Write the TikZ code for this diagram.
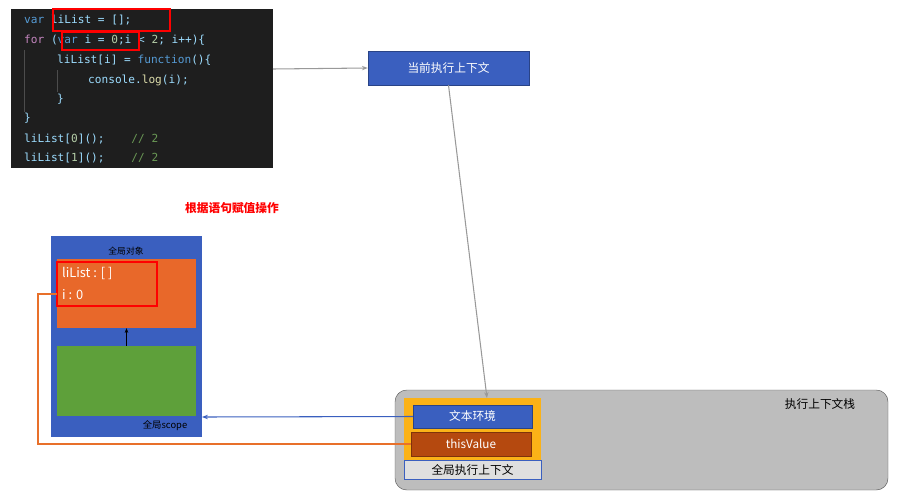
\documentclass[tikz,border=0pt]{standalone}
\usepackage{fontspec}
\setmainfont{Noto Sans CJK SC}
\newfontfamily\codefont{DejaVu Sans Mono}
\usetikzlibrary{arrows.meta,positioning}
\definecolor{codebg}{HTML}{1E1E1E}
\definecolor{kwblue}{HTML}{569CD6}
\definecolor{kwpink}{HTML}{C586C0}
\definecolor{idblue}{HTML}{9CDCFE}
\definecolor{fnyel}{HTML}{DCDCAA}
\definecolor{numgrn}{HTML}{B5CEA8}
\definecolor{cmtgrn}{HTML}{6A9955}
\definecolor{boxblue}{HTML}{3A5FBF}
\definecolor{objorange}{HTML}{E8682A}
\definecolor{scopegreen}{HTML}{5EA03A}
\definecolor{framegold}{HTML}{FBB217}
\definecolor{thisbrown}{HTML}{B5490F}
\definecolor{stackgray}{HTML}{BDBDBD}
\definecolor{linkorange}{HTML}{E8702A}
\tikzset{
  codeline/.style={anchor=west,inner sep=0pt,font=\codefont\fontsize{9.5}{11}\selectfont,text=idblue},
  redmark/.style={draw=red,line width=1.6pt},
  bluebox/.style={fill=boxblue,draw=boxblue!70!black,text=white,inner sep=0pt},
  grayarrow/.style={draw=gray!80,line width=0.9pt,-{Stealth[length=5pt]}},
}
\begin{document}
\begin{tikzpicture}[x=0.03cm,y=-0.03cm]
	\useasboundingbox (0,0) rectangle (903,500);

	% code
	\fill[codebg] (11,9) rectangle (273,168);
	\draw[gray!60!black] (24,50) -- (24,112);
	\draw[gray!60!black] (57,70) -- (57,92);
	\node[codeline] (c1) at (24,20) {\textcolor{kwblue}{var} liList = [];};
	\node[codeline] (c2) at (24,40) {\textcolor{kwpink}{for} (\textcolor{kwblue}{var} i = \textcolor{numgrn}{0};i < \textcolor{numgrn}{2}; i++)\{};
	\node[codeline] (c3) at (57,60) {liList[i] = \textcolor{kwblue}{function}()\{};
	\node[codeline] (c4) at (88,80) {console.\textcolor{fnyel}{log}(i);};
	\node[codeline] (c5) at (57,99) {\}};
	\node[codeline] (c6) at (24,118) {\}};
	\node[codeline] (c7) at (24,139) {liList[\textcolor{numgrn}{0}]();\ \ \ \ \textcolor{cmtgrn}{// 2}};
	\node[codeline] (c8) at (24,158) {liList[\textcolor{numgrn}{1}]();\ \ \ \ \textcolor{cmtgrn}{// 2}};
	\draw[redmark] (53,9) rectangle (170,31);
	\draw[redmark] (62,32) rectangle (139,50);
	\coordinate (codeout) at (273,69);

	% current context
	\node[bluebox,minimum width=161*0.03cm,minimum height=34*0.03cm,font=\fontsize{10}{12}\selectfont] (cur) at (448.5,68) {当前执行上下文};
	\draw[grayarrow] (codeout) -- (cur.west);

	\node[text=red,font=\bfseries\fontsize{10}{12}\selectfont] (note) at (232,208) {根据语句赋值操作};

	% global object
	\fill[boxblue] (51,236) rectangle (202,437);
	\node[font=\fontsize{7.5}{9}\selectfont] (gtitle) at (126,251) {全局对象};
	\node[fill=objorange,minimum width=139*0.03cm,minimum height=69*0.03cm,inner sep=0pt] (obj) at (126.5,293.5) {};
	\node[fill=scopegreen,minimum width=139*0.03cm,minimum height=70*0.03cm,inner sep=0pt] (scope) at (126.5,381) {};
	\draw[-{Stealth[length=4pt]}] (scope.north) -- (obj.south);
	\draw[redmark] (57,262) rectangle (157,306);
	\node[anchor=west,text=white,font=\fontsize{11}{13}\selectfont,inner sep=0pt] (lilist) at (62,273) {liList : [ ]};
	\node[anchor=west,text=white,font=\fontsize{11}{13}\selectfont,inner sep=0pt] (ival) at (62,295) {i : 0};
	\node[font=\fontsize{8}{10}\selectfont] (gscope) at (165,426) {全局scope};
	\coordinate (gright) at (202,417);

	% stack
	\draw[gray!70!black,fill=stackgray,rounded corners=10pt] (395,390) rectangle (888,490);
	\node[font=\fontsize{10}{12}\selectfont] (stack) at (820,404) {执行上下文栈};
	\fill[framegold] (404,398) rectangle (541,460);
	\draw[boxblue,fill=gray!25] (404,460) rectangle (541,479);
	\node[font=\fontsize{10}{12}\selectfont] (gec) at (472.5,469.5) {全局执行上下文};
	\node[bluebox,minimum width=119*0.03cm,minimum height=23*0.03cm,font=\fontsize{10}{12}\selectfont] (lex) at (472.5,416.5) {文本环境};
	\node[fill=thisbrown,draw=thisbrown!70!black,text=white,inner sep=0pt,minimum width=120*0.03cm,minimum height=24*0.03cm,font=\fontsize{10}{12}\selectfont] (this) at (471,444) {thisValue};
	\draw[grayarrow] (cur.south) -- (487,398);

	% links
	\draw[boxblue,line width=0.9pt,-{Stealth[length=5pt]}] (lex.west) -- (gright);
	\draw[linkorange,line width=1pt] (this.west) -- (38,444) -- (38,294) -- (57,294);
\end{tikzpicture}
\end{document}
